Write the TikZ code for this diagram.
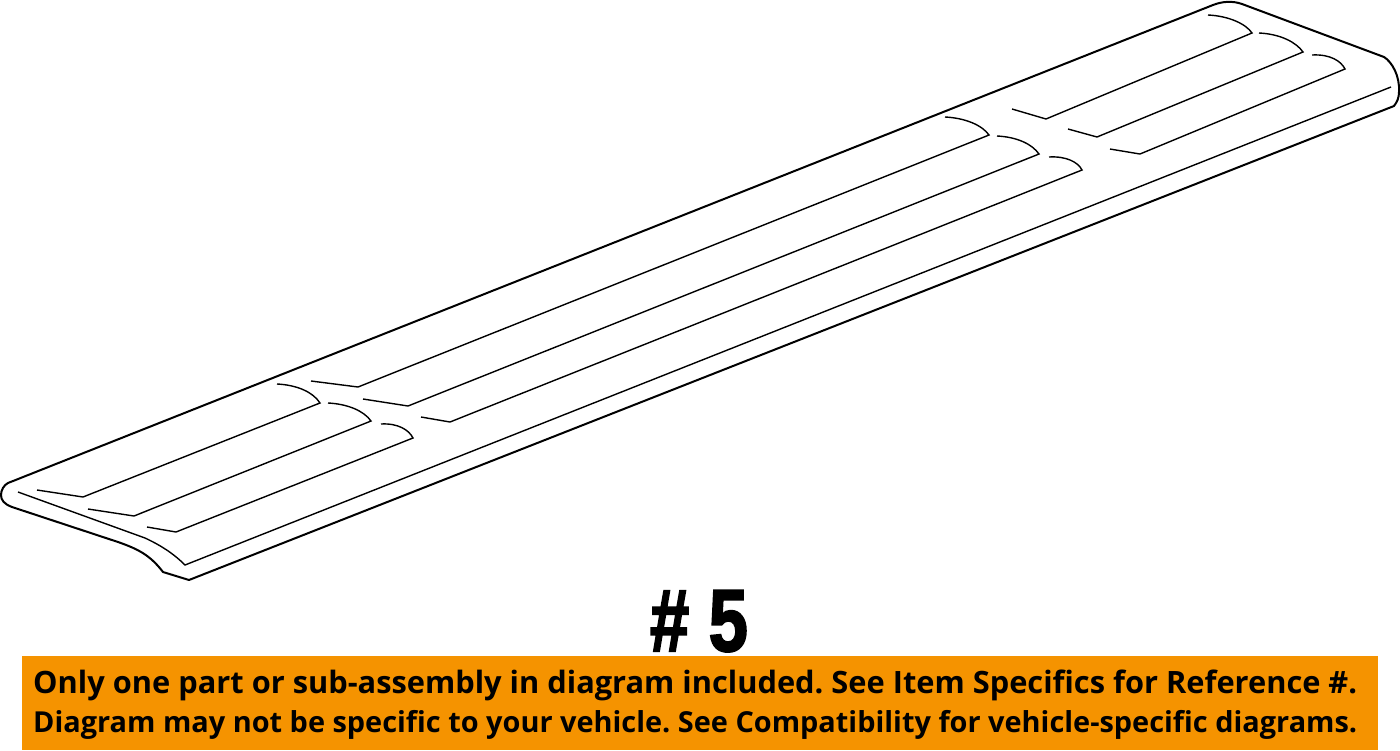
\documentclass[tikz,border=0pt]{standalone}
\usepackage{fontspec}
\setmainfont{Open Sans}
\newfontfamily\numfont[FakeBold=2.5]{Liberation Sans}
\usepackage{graphicx}
\definecolor{bannerorange}{HTML}{F59300}
\newcommand{\bannerline}[1]{\resizebox{1324pt}{!}{\frenchspacing #1}}
\tikzset{
  outlineline/.style={draw=black,line width=2pt,line join=round,line cap=round},
  innerline/.style={draw=black,line width=1.4pt,line join=miter,line cap=butt},
  bannertext/.style={anchor=base west,inner sep=0pt,text=black,font=\bfseries\fontsize{29}{34}\selectfont}
}
\begin{document}
\begin{tikzpicture}[x=1pt,y=-1pt]
\useasboundingbox (0,0) rectangle (1400,750);
% outer outline
\path[outlineline] (8,483) -- (1213,5)
  .. controls (1222,1.5) and (1232,0.5) .. (1242,4)
  -- (1384,57)
  .. controls (1392,62) and (1400,76) .. (1399,92)
  .. controls (1399,98) and (1397,102) .. (1394,106)
  -- (189,580) -- (163,572)
  .. controls (150,555) and (138,549) .. (118,542)
  -- (12,507)
  .. controls (4,504) and (1,500) .. (1,495)
  .. controls (1,490) and (4,485) .. (8,483) -- cycle;
% front inner edge
\path[innerline] (18,492) -- (145,538)
  .. controls (160,545) and (173,553) .. (185,565) -- (1391,87);
% left group of ribs
\path[innerline] (37,490) -- (83,497) -- (320,403) .. controls (313,392) and (297,385) .. (277,384);
\path[innerline] (88,509) -- (134,516) -- (371,421) .. controls (364,411) and (348,404) .. (328,403);
\path[innerline] (147,527) -- (176,532) -- (413,438) .. controls (409,430) and (398,423) .. (381,424);
% middle group of ribs
\path[innerline] (311,381) -- (358,387) -- (989,135) .. controls (982,125) and (965,118) .. (945,117);
\path[innerline] (363,399) -- (408,406) -- (1039,154) .. controls (1032,144) and (1017,137) .. (997,136);
\path[innerline] (421,417) -- (450,422) -- (1082,170) .. controls (1078,162) and (1066,156) .. (1049,157);
% right group of ribs
\path[innerline] (1012,109) -- (1046,119) -- (1252,33) .. controls (1246,24) and (1229,16) .. (1208,15);
\path[innerline] (1068,129) -- (1097,137) -- (1303,52) .. controls (1296,42) and (1280,34) .. (1259,33);
\path[innerline] (1110,149) -- (1140,154) -- (1345,69) .. controls (1341,61) and (1330,54) .. (1312,55);
% label
\node[inner sep=0pt,anchor=base] (partno) at (699,651)
  {\scalebox{0.8}[1]{\numfont\bfseries\fontsize{88}{90}\selectfont \# 5}};
% banner
\fill[bannerorange] (22,656) rectangle (1378,750);
\node[bannertext] (line1) at (33,693) {\bannerline{Only one part or sub-assembly in diagram included. See Item Specifics for Reference \#.}};
\node[bannertext] (line2) at (33,732) {\bannerline{Diagram may not be specific to your vehicle. See Compatibility for vehicle-specific diagrams.}};
\end{tikzpicture}
\end{document}
